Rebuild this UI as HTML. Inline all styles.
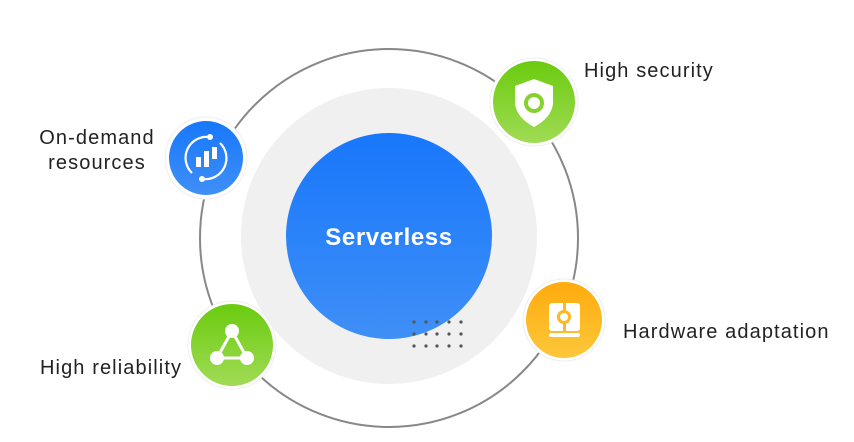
<html><head><style>
body{margin:0;width:854px;height:442px;background:#fff;position:relative;overflow:hidden;font-family:"Liberation Sans",sans-serif}
.t{position:absolute;font-size:20px;color:#222;line-height:25px;letter-spacing:1.1px;white-space:nowrap}
</style></head><body>
<svg width="854" height="442" style="position:absolute;left:0;top:0">
<defs>
<linearGradient id="b" x1="0" y1="0" x2="0" y2="1"><stop offset="0" stop-color="#1877fb"/><stop offset="1" stop-color="#3f8ff7"/></linearGradient>
<linearGradient id="g" x1="0" y1="0" x2="0" y2="1"><stop offset="0" stop-color="#6acb0e"/><stop offset="1" stop-color="#a0db55"/></linearGradient>
<linearGradient id="o" x1="0" y1="0" x2="0" y2="1"><stop offset="0" stop-color="#ffab0d"/><stop offset="1" stop-color="#fcc73a"/></linearGradient>
</defs>
<circle cx="389" cy="238" r="189" fill="none" stroke="#888" stroke-width="2"/>
<circle cx="389" cy="236" r="148" fill="#f0f0f0"/>
<circle cx="389" cy="236" r="103" fill="url(#b)"/>
<text x="389" y="245" text-anchor="middle" font-family="Liberation Sans" font-weight="bold" font-size="24" letter-spacing="0.6" fill="#fff">Serverless</text>
<g fill="#555">
<circle cx="414" cy="322" r="1.6"/><circle cx="426" cy="322" r="1.6"/><circle cx="437" cy="322" r="1.6"/><circle cx="449" cy="322" r="1.6"/><circle cx="461" cy="322" r="1.6"/>
<circle cx="414" cy="334" r="1.6"/><circle cx="426" cy="334" r="1.6"/><circle cx="437" cy="334" r="1.6"/><circle cx="449" cy="334" r="1.6"/><circle cx="461" cy="334" r="1.6"/>
<circle cx="414" cy="346" r="1.6"/><circle cx="426" cy="346" r="1.6"/><circle cx="437" cy="346" r="1.6"/><circle cx="449" cy="346" r="1.6"/><circle cx="461" cy="346" r="1.6"/>
</g>
<circle cx="206" cy="158" r="41" fill="#fff" stroke="#eee"/>
<circle cx="206" cy="158" r="37" fill="url(#b)"/>
<path d="M192 173 A21 21 0 0 1 209 137" fill="none" stroke="#fff" stroke-width="2.2"/>
<path d="M220 143 A21 21 0 0 1 203 179" fill="none" stroke="#fff" stroke-width="2.2"/>
<circle cx="210" cy="137" r="3" fill="#fff"/><circle cx="202" cy="179" r="3" fill="#fff"/>
<rect x="196" y="157" width="5" height="10" fill="#fff"/><rect x="204" y="151" width="5" height="16" fill="#fff"/><rect x="212" y="147" width="5" height="12" fill="#fff"/>
<circle cx="534" cy="102" r="44" fill="#fff" stroke="#eee"/>
<circle cx="534" cy="102" r="41" fill="url(#g)"/>
<path d="M534 79 L553 86 L553 104 Q551 118 534 127 Q517 118 515 104 L515 86 Z" fill="#fff"/>
<circle cx="534" cy="103" r="10" fill="#86d12e"/><circle cx="534" cy="103" r="6" fill="#fff"/>
<circle cx="564" cy="320" r="41" fill="#fff" stroke="#eee"/>
<circle cx="564" cy="320" r="38" fill="url(#o)"/>
<rect x="549" y="303" width="31" height="28" rx="3" fill="#fff"/>
<rect x="549" y="333" width="31" height="4" rx="2" fill="#fff"/>
<rect x="563" y="303" width="3" height="28" fill="#ffb820"/>
<circle cx="564" cy="317" r="7" fill="#ffb820"/><circle cx="564" cy="317" r="4" fill="#fff"/>
<circle cx="232" cy="345" r="44" fill="#fff" stroke="#eee"/>
<circle cx="232" cy="345" r="41" fill="url(#g)"/>
<path d="M232 331 L217 358 L247 358 Z" fill="none" stroke="#fff" stroke-width="3"/>
<circle cx="232" cy="331" r="7" fill="#fff"/><circle cx="217" cy="358" r="7" fill="#fff"/><circle cx="247" cy="358" r="7" fill="#fff"/>
</svg>
<div class="t" style="left:27px;top:126px;text-align:center;width:140px">On-demand<br>resources</div>
<div class="t" style="left:584px;top:59px">High security</div>
<div class="t" style="left:623px;top:320px">Hardware adaptation</div>
<div class="t" style="left:40px;top:356px">High reliability</div>
</body></html>
